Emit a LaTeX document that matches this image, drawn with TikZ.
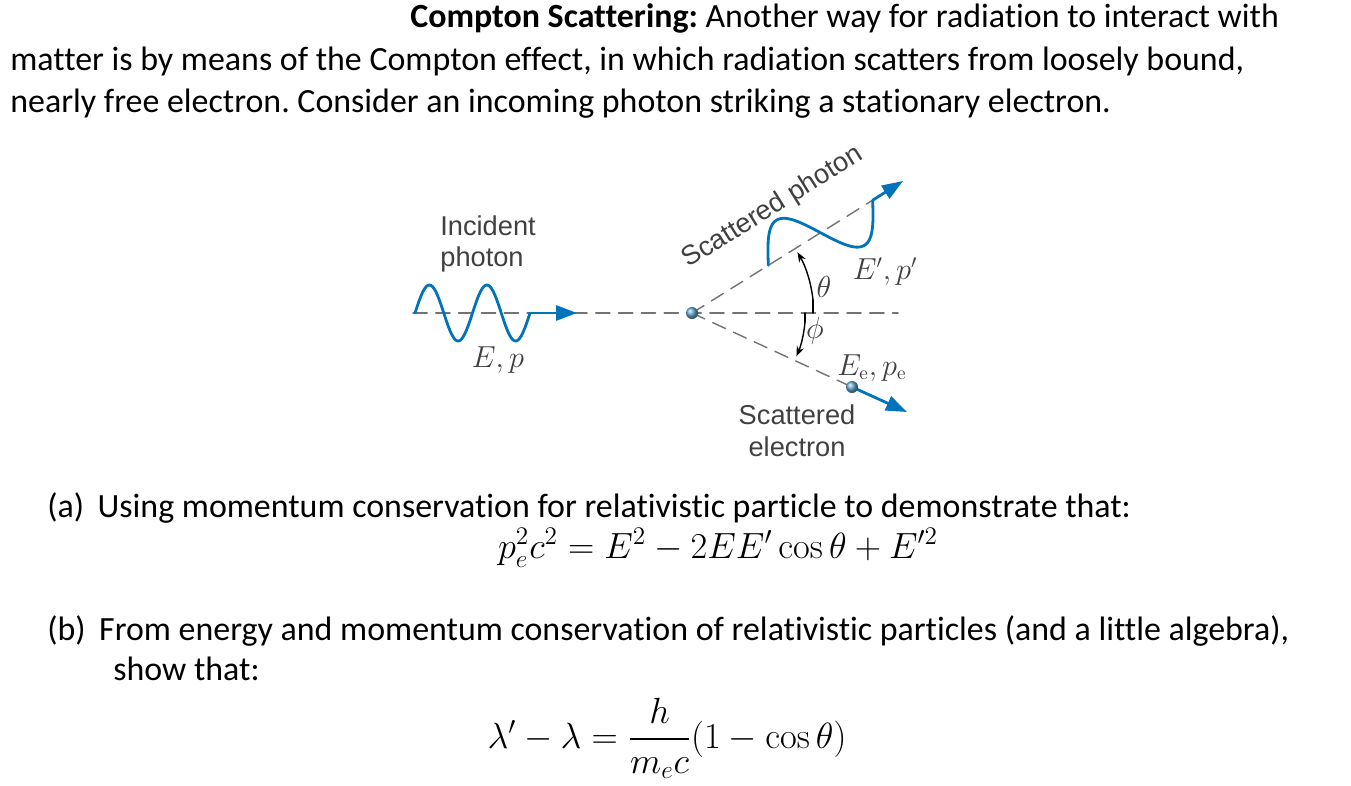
\documentclass[tikz,border=0pt]{standalone}
\usepackage{amsmath}
\usepackage[no-math]{fontspec}
\setmainfont{Carlito}[Ligatures=CommonOff]
\newfontfamily\labelfont{Liberation Sans}
\usetikzlibrary{arrows.meta}
\frenchspacing
\definecolor{photonblue}{rgb}{0.0,0.45,0.73}
\definecolor{dashgray}{rgb}{0.45,0.45,0.45}
\tikzset{
  body/.style={anchor=base west,inner sep=0pt,font=\fontsize{19.3}{22}\selectfont},
  eq/.style={anchor=base,inner sep=0pt,font=\fontsize{21.5}{24}\selectfont},
  lbl/.style={inner sep=0pt,font=\labelfont\fontsize{15.5}{18}\selectfont,text=black!75},
  axis/.style={dash pattern=on 8pt off 5pt,line width=1pt,dashgray},
  wave/.style={line width=1.6pt,photonblue},
  bigtip/.style={-{Triangle[length=0.42cm,width=0.3cm]},photonblue,line width=1.6pt},
  angarr/.style={-{Stealth[length=0.2cm]},line width=0.8pt}
}
\begin{document}
\begin{tikzpicture}[x=0.02cm,y=-0.02cm,line cap=round,line join=round]
\useasboundingbox (0,0) rectangle (1351,785);
% text above the picture
\node[body] (t1) at (410,27) {\textbf{Compton Scattering:} Another way for radiation to interact with};
\node[body] (t2) at (10,70) {matter is by means of the Compton effect, in which radiation scatters from loosely bound,};
\node[body] (t3) at (10,112) {nearly free electron. Consider an incoming photon striking a stationary electron.};
% axes
\coordinate (e) at (692,313);
\coordinate (up) at (873,200);
\coordinate (dn) at (852,387);
\draw[axis] (413,313) -- (898,313);
\draw[axis,line width=0.8pt] (e) -- (up);
\draw[axis,line width=0.8pt] (e) -- (dn);
% incident photon
\draw[wave,domain=415:530,samples=80,smooth] plot (\x,{313-28*sin(6.2609*(\x-415))});
\draw[bigtip] (530,313) -- (577,313);
% scattered photon
\draw[wave,domain=90:213,samples=80,smooth] plot
  ({692+0.848*\x-18.02*sin(2.9268*(\x-90))},{313-0.53*\x-28.83*sin(2.9268*(\x-90))});
\draw[bigtip] (up) -- (903,181);
% scattered electron
\draw[bigtip] (dn) -- (907,412);
\shade[ball color=photonblue!60] (e) circle (6);
\shade[ball color=photonblue!60] (dn) circle (6);
% angles
\draw[line width=0.8pt] (813,313) -- (813,300);
\draw[angarr] (813,300) arc[start angle=-6,end angle=-30,radius=121];
\draw[line width=0.8pt] (805,313) -- (805,322);
\draw[angarr] (805,322) arc[start angle=5,end angle=23,radius=113];
% labels
\node[lbl,anchor=west,align=left] (inc) at (440,244) {Incident\\photon};
\node[lbl,font=\fontsize{16}{18}\selectfont] (ep) at (498,360) {$E, p$};
\node[lbl,rotate=32] (scp) at (773,207) {Scattered photon};
\node[lbl,font=\fontsize{16}{18}\selectfont] (epp) at (885,272) {$E', p'$};
\node[lbl,font=\fontsize{16}{18}\selectfont] (th) at (824,287) {$\theta$};
\node[lbl,font=\fontsize{16}{18}\selectfont] (ph) at (815,331) {$\phi$};
\node[lbl,font=\fontsize{16}{18}\selectfont] (epe) at (872,368) {$E_{\mathrm{e}}, p_{\mathrm{e}}$};
\node[lbl,align=center] (sce) at (797,431) {Scattered\\electron};
% questions
\node[body] (qa) at (47,517) {(a)\hspace{0.4em}Using momentum conservation for relativistic particle to demonstrate that:};
\node[eq] (eqa) at (718,558) {$p_e^2c^2 = E^2 - 2EE'\cos\theta + E'^2$};
\node[body] (qb) at (47,640) {(b)\hspace{0.4em}From energy and momentum conservation of relativistic particles (and a little algebra),};
\node[body] (qb2) at (113,680) {show that:};
\node[eq] (eqb) at (667,748) {$\lambda' - \lambda = \dfrac{h}{m_e c}(1-\cos\theta)$};
\end{tikzpicture}
\end{document}
